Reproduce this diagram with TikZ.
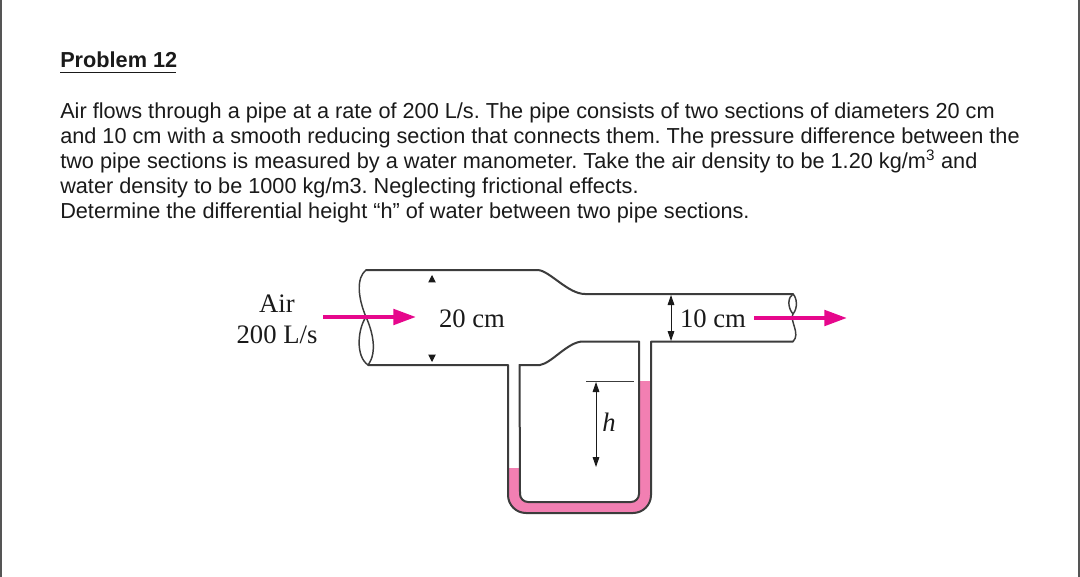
\documentclass[tikz,border=0pt]{standalone}
\usepackage{fontspec}
\setmainfont{Liberation Sans}
\newfontfamily\figfont{Liberation Serif}
\usetikzlibrary{arrows.meta}
\frenchspacing
\definecolor{inkc}{HTML}{1A1A1A}
\definecolor{pipec}{HTML}{3C3C3C}
\definecolor{waterc}{HTML}{F27FB2}
\definecolor{flowc}{HTML}{E6078C}
\definecolor{edgec}{HTML}{555555}
\tikzset{
  x=0.75pt,y=-0.75pt,
  textline/.style={anchor=base west,inner sep=0pt,text=inkc,font=\fontsize{16.27pt}{18pt}\selectfont},
  figlabel/.style={inner sep=0pt,text=inkc,font=\figfont\fontsize{20pt}{22pt}\selectfont},
  pipeline/.style={draw=pipec,line width=1.5pt,line cap=round,line join=round},
  thinpipe/.style={draw=pipec,line width=1.1pt},
  flowarrow/.style={draw=flowc,line width=3pt,-{Triangle[length=17pt,width=11.5pt]}},
  dimarrow/.style={draw=inkc,line width=0.7pt,{Triangle[length=7.5pt,width=5pt]}-{Triangle[length=7.5pt,width=5pt]}},
  dimtip/.style={draw=inkc,line width=0.7pt,-{Triangle[length=5.5pt,width=5.5pt]}},
}
\begin{document}
\begin{tikzpicture}
\useasboundingbox (0,0) rectangle (1080,577);
\fill[white] (0,0) rectangle (1080,577);
\fill[edgec] (0,0) rectangle (2,577);
\fill[edgec] (1078,0) rectangle (1080,577);
% texts
\node[textline,font=\bfseries\fontsize{16.27pt}{18pt}\selectfont] (title) at (60,68) {Problem 12};
\coordinate (ula) at (60,72.5);
\coordinate (ulb) at (176,72.5);
\draw[inkc,line width=1.4pt] (ula) -- (ulb);
\node[textline] (l1) at (60,118.5) {Air flows through a pipe at a rate of 200 L/s. The pipe consists of two sections of diameters 20 cm};
\node[textline] (l2) at (60,143.5) {and 10 cm with a smooth reducing section that connects them. The pressure difference between the};
\node[textline] (l3) at (60,168.5) {two pipe sections is measured by a water manometer. Take the air density to be 1.20 kg/m\textsuperscript{3} and};
\node[textline] (l4) at (60,193.5) {water density to be 1000 kg/m3. Neglecting frictional effects.};
\node[textline] (l5) at (60,218.5) {Determine the differential height “h” of water between two pipe sections.};
% water
\fill[waterc] (508,468) -- (508,495) arc[start angle=180,end angle=90,radius=18] -- (633,513) arc[start angle=90,end angle=0,radius=18] -- (651,381) -- (639,381) -- (639,494) arc[start angle=0,end angle=90,radius=8] -- (528,502) arc[start angle=90,end angle=180,radius=8] -- (520,468) -- cycle;
% pipe outline
\draw[pipeline] (366,270) -- (538,270) .. controls (550,271) and (568,294) .. (585,294) -- (793,294);
\draw[pipeline] (368,365) -- (508,365) -- (508,495) arc[start angle=180,end angle=90,radius=18] -- (633,513) arc[start angle=90,end angle=0,radius=18] -- (651,341.5) -- (793,341.5);
\draw[pipeline] (519.5,365) -- (540,365) .. controls (552,363) and (568,341.5) .. (583,341.5) -- (639,341.5) -- (639,494) arc[start angle=0,end angle=90,radius=8] -- (528,502) arc[start angle=90,end angle=180,radius=8] -- cycle;
% pipe end breaks
\draw[thinpipe] (366,270) .. controls (356,278) and (358,298) .. (366,317) .. controls (372,330) and (378,352) .. (368,365);
\draw[thinpipe] (366,317) .. controls (358,328) and (355,356) .. (368,365);
\draw[thinpipe] (793,294) .. controls (797,298) and (798,308) .. (793,314) .. controls (789,320) and (801,334) .. (793,341.5);
\draw[thinpipe] (793,294) .. controls (788,297) and (787,307) .. (793,314);
% flow arrows
\coordinate (fa1) at (323,317);
\coordinate (fa2) at (416,317);
\coordinate (fb1) at (754,318);
\coordinate (fb2) at (847,318);
\draw[flowarrow] (fa1) -- (fa2);
\draw[flowarrow] (fb1) -- (fb2);
% dimensions
\coordinate (d20a) at (432,281);
\coordinate (d20b) at (432,275);
\coordinate (d20c) at (432,355);
\coordinate (d20d) at (432,362);
\draw[dimtip] (d20a) -- (d20b);
\draw[dimtip] (d20c) -- (d20d);
\coordinate (d10a) at (671,295);
\coordinate (d10b) at (671,341);
\draw[dimarrow] (d10a) -- (d10b);
\coordinate (ha) at (586,381);
\coordinate (hb) at (634,381);
\draw[draw=pipec,line width=0.7pt] (ha) -- (hb);
\coordinate (h1) at (596,382);
\coordinate (h2) at (596,467);
\draw[dimarrow] (h1) -- (h2);
% figure labels
\node[figlabel] (air) at (277,304) {Air};
\node[figlabel] (flow) at (277,335) {200 L/s};
\node[figlabel] (d20) at (472,319) {20 cm};
\node[figlabel] (d10) at (713,319) {10 cm};
\node[figlabel,font=\figfont\itshape\fontsize{20pt}{22pt}\selectfont] (hlab) at (609,422) {h};
\end{tikzpicture}
\end{document}
